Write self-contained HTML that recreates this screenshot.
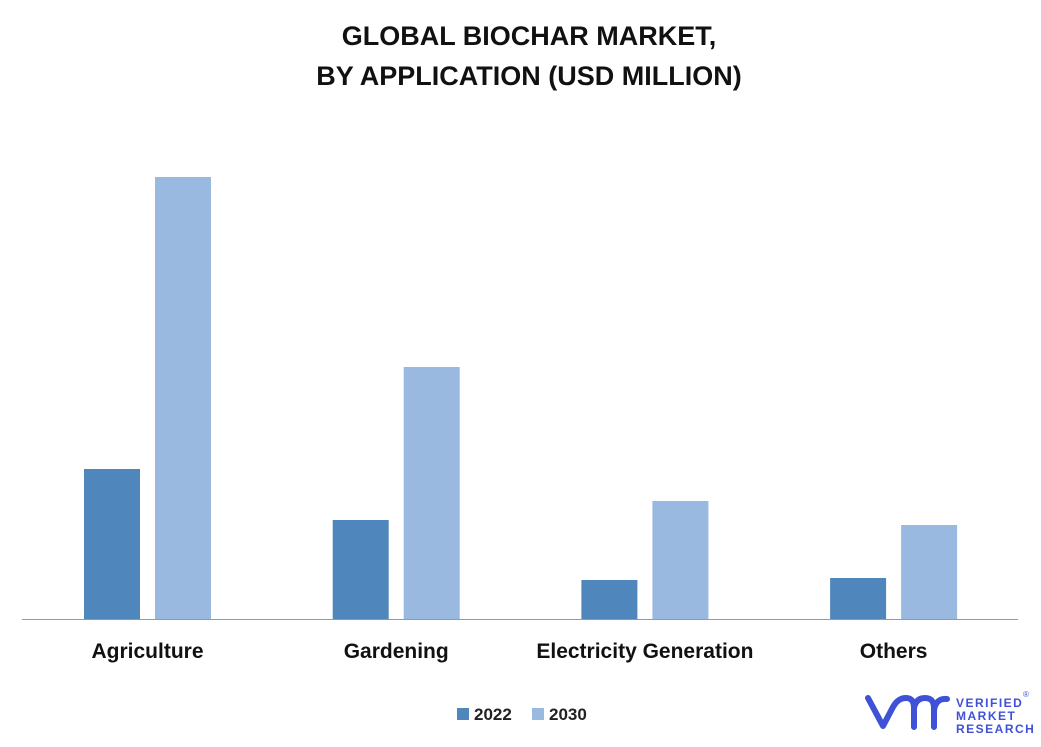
<!DOCTYPE html>
<html><head><meta charset="utf-8"><style>
body{margin:0;background:#fff;font-family:"Liberation Sans",sans-serif;}
svg{display:block}
</style></head><body>
<svg id="c" width="1041" height="747">
<text x="529" y="45" text-anchor="middle" font-size="27" font-weight="bold" fill="#111">GLOBAL BIOCHAR MARKET,</text>
<text x="529" y="85" text-anchor="middle" font-size="27" font-weight="bold" fill="#111">BY APPLICATION (USD MILLION)</text>
<g id="bars"></g>
<line x1="22" y1="619.5" x2="1018" y2="619.5" stroke="#999" stroke-width="1"/>
<g id="labels"></g>
<rect x="457" y="708" width="12" height="12" fill="#4f86bc"/>
<text x="474" y="720" font-size="17" font-weight="bold" fill="#222">2022</text>
<rect x="532" y="708" width="12" height="12" fill="#9ab9e0"/>
<text x="549" y="720" font-size="17" font-weight="bold" fill="#222">2030</text>
<g>
<path d="M868 698 L883 726 L893 707 Q898 698 906 698 Q914 698 914 708 L914 727 M914 708 Q916 698 925 698 Q934 698 934 708 L934 727 M934 710 Q936 698 947 699" fill="none" stroke="#3f51d6" stroke-width="6" stroke-linecap="round" stroke-linejoin="round"/>
<text x="956" y="707" font-size="12" font-weight="bold" fill="#3f51d6" letter-spacing="1.5">VERIFIED</text>
<text x="956" y="720" font-size="12" font-weight="bold" fill="#3f51d6" letter-spacing="1.5">MARKET</text>
<text x="956" y="733" font-size="12" font-weight="bold" fill="#3f51d6" letter-spacing="1.5">RESEARCH</text>
<text x="1023" y="697" font-size="8" fill="#3f51d6">®</text>
</g>
</svg>
<script>
const categories=["Agriculture","Gardening","Electricity Generation","Others"];
const values2022=[150,99,39,41];
const values2030=[442,252,118,94];
const NS="http://www.w3.org/2000/svg";
const baseY=619, scale=1;
function xCenter(i){return 147.5+i*248.7;}
function yPos(v){return baseY-v*scale;}
const bars=document.getElementById('bars'), labels=document.getElementById('labels');
categories.forEach((c,i)=>{
  [[values2022,-63.5,'#4f86bc','2022'],[values2030,7.5,'#9ab9e0','2030']].forEach(([arr,off,col,yr])=>{
    const r=document.createElementNS(NS,'rect');
    r.setAttribute('x',xCenter(i)+off);r.setAttribute('width',56);
    r.setAttribute('y',yPos(arr[i]));r.setAttribute('height',baseY-yPos(arr[i]));
    r.setAttribute('fill',col);
    
    
    bars.appendChild(r);
  });
  const t=document.createElementNS(NS,'text');
  t.setAttribute('x',xCenter(i));t.setAttribute('y',658);
  t.setAttribute('text-anchor','middle');t.setAttribute('font-size','21');
  t.setAttribute('font-weight','bold');t.setAttribute('fill','#111');
  t.textContent=c;
  
  
  labels.appendChild(t);
});
</script>
</body></html>
